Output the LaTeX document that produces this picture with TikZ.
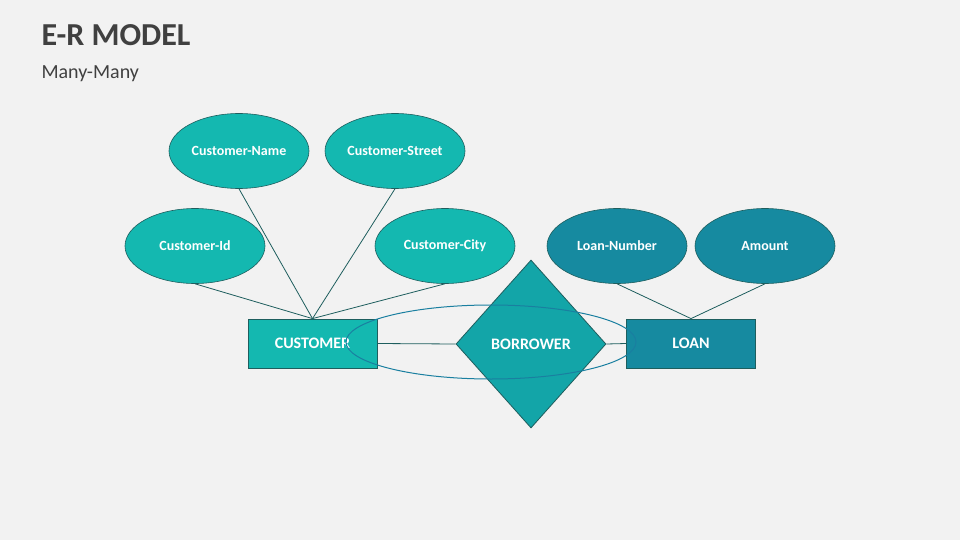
\documentclass[tikz,border=0pt]{standalone}
\usepackage{fontspec}
\setmainfont{Carlito}
\usetikzlibrary{shapes.geometric}
\definecolor{bg}{HTML}{F2F2F2}
\definecolor{tealA}{HTML}{14B8B0}
\definecolor{tealB}{HTML}{168AA0}
\definecolor{tealD}{HTML}{13A5A8}
\definecolor{edge}{HTML}{1E5E5E}
\definecolor{ringc}{HTML}{1A7FA0}
\definecolor{titlec}{HTML}{404040}
\begin{document}
\begin{tikzpicture}[x=1pt,y=-1pt,
  attr/.style={ellipse,draw=edge,line width=0.6pt,minimum width=140pt,minimum height=75pt,inner sep=0pt,text=white,font=\fontsize{14}{16}\selectfont\bfseries},
  ent/.style={rectangle,draw=edge,line width=0.8pt,minimum width=129pt,minimum height=49pt,text=white,font=\fontsize{16}{18}\selectfont\bfseries},
  conn/.style={draw=edge,line width=0.8pt}]
\fill[bg] (0,0) rectangle (960,540);
\useasboundingbox (0,0) rectangle (960,540);
\node[anchor=west,text=titlec,font=\fontsize{32}{36}\selectfont\bfseries] (title) at (38,35) {E-R MODEL};
\node[anchor=west,text=titlec,font=\fontsize{20}{24}\selectfont] (sub) at (38,74) {Many-Many};
\node[attr,fill=tealA] (cn) at (239,151) {Customer-Name};
\node[attr,fill=tealA] (cs) at (395,151) {Customer-Street};
\node[attr,fill=tealA] (ci) at (195,246) {Customer-Id};
\node[attr,fill=tealA] (cc) at (445,246) {Customer-City};
\node[attr,fill=tealB] (ln) at (617,246) {Loan-Number};
\node[attr,fill=tealB] (am) at (765,246) {Amount};
\node[ent,fill=tealA] (cu) at (312.5,343.5) {CUSTOMER};
\node[ent,fill=tealB] (lo) at (691,343.5) {LOAN};
\node[diamond,draw=edge,line width=0.8pt,fill=tealD,minimum width=150pt,minimum height=168pt,inner sep=0pt,text=white,font=\fontsize{16}{18}\selectfont\bfseries] (bo) at (531,344) {BORROWER};
\draw[conn] (cu.north) -- (ci.south);
\draw[conn] (cu.north) -- (cn.south);
\draw[conn] (cu.north) -- (cs.south);
\draw[conn] (cu.north) -- (cc.south);
\draw[conn] (lo.north) -- (ln.south);
\draw[conn] (lo.north) -- (am.south);
\draw[conn] (cu.east) -- (bo.west);
\draw[conn] (bo.east) -- (lo.west);
\node[ellipse,draw=ringc,line width=1pt,minimum width=290pt,minimum height=74pt,inner sep=0pt] (ring) at (491,342) {};
\end{tikzpicture}
\end{document}
